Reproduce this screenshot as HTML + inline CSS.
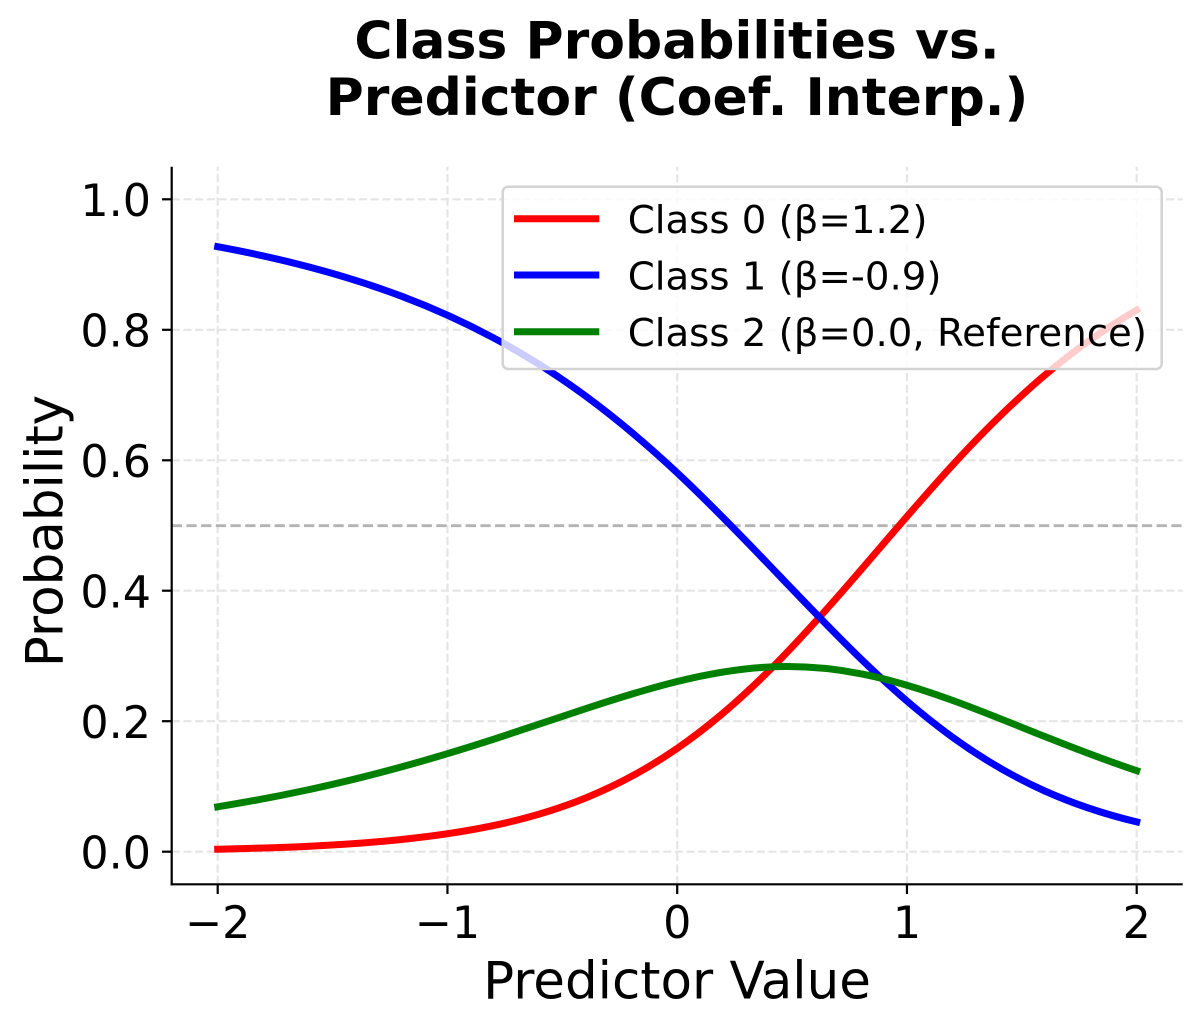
<!DOCTYPE html>
<html>
<head>
<meta charset="utf-8">
<style>
html,body{margin:0;padding:0;background:#fff;}
svg{display:block;}
text{font-family:"DejaVu Sans","Liberation Sans",sans-serif;fill:#000;}
</style>
</head>
<body>
<svg width="1200" height="1027" viewBox="0 0 1200 1027" xmlns="http://www.w3.org/2000/svg">
<rect x="0" y="0" width="1200" height="1027" fill="#fff"/>

<!-- Title -->
<text x="677" y="58.3" font-size="52" font-weight="bold" text-anchor="middle">Class Probabilities vs.</text>
<text x="677" y="115" font-size="52" font-weight="bold" text-anchor="middle">Predictor (Coef. Interp.)</text>

<!-- Grid -->
<g stroke="#e5e5e5" stroke-width="2.2" stroke-dasharray="8.2 3.5" fill="none">
  <line x1="217.7" y1="884.3" x2="217.7" y2="166.7"/>
  <line x1="447.45" y1="884.3" x2="447.45" y2="166.7"/>
  <line x1="677.2" y1="884.3" x2="677.2" y2="166.7"/>
  <line x1="906.95" y1="884.3" x2="906.95" y2="166.7"/>
  <line x1="1136.7" y1="884.3" x2="1136.7" y2="166.7"/>
  <line x1="171.7" y1="199.3" x2="1182.7" y2="199.3"/>
  <line x1="171.7" y1="329.8" x2="1182.7" y2="329.8"/>
  <line x1="171.7" y1="460.3" x2="1182.7" y2="460.3"/>
  <line x1="171.7" y1="590.7" x2="1182.7" y2="590.7"/>
  <line x1="171.7" y1="721.2" x2="1182.7" y2="721.2"/>
  <line x1="171.7" y1="851.7" x2="1182.7" y2="851.7"/>
</g>

<!-- 0.5 reference line -->
<line x1="171.7" y1="525.7" x2="1182.7" y2="525.7" stroke="#b3b3b3" stroke-width="2.8" stroke-dasharray="10.3 4.4"/>

<!-- Curves -->
<g fill="none" stroke-width="7" stroke-linecap="square" stroke-linejoin="round">
<path stroke="#ff0000" d="M217.7,849.2
C248.33,848.53 278.97,847.67 309.6,846.2
C340.23,844.73 370.87,842.66 401.5,839.5
C432.13,836.34 462.77,832.08 493.4,825.6
C524.03,819.12 554.67,810.47 585.3,798.1
C615.93,785.73 646.57,769.5 677.2,748.4
C707.83,727.3 738.47,701.17 769.1,670.7
C799.73,640.23 830.37,605.5 861.0,569.9
C891.63,534.3 922.27,498.02 952.9,464.7
C983.53,431.38 1014.17,401.08 1044.8,375.2
C1075.43,349.32 1106.07,327.79 1136.7,310.1"/>
<path stroke="#0000ff" d="M217.7,246.7
C248.33,252.34 278.97,259.02 309.6,267.1
C340.23,275.18 370.87,284.64 401.5,296.2
C432.13,307.76 462.77,321.42 493.4,337.8
C524.03,354.18 554.67,373.32 585.3,395.8
C615.93,418.28 646.57,444.14 677.2,472.8
C707.83,501.46 738.47,532.99 769.1,565.0
C799.73,597.01 830.37,629.39 861.0,659.0
C891.63,688.61 922.27,715.35 952.9,737.5
C983.53,759.65 1014.17,777.29 1044.8,791.0
C1075.43,804.71 1106.07,814.53 1136.7,821.9"/>
<path stroke="#008000" d="M217.7,806.8
C248.33,801.83 278.97,796.11 309.6,789.5
C340.23,782.89 370.87,775.31 401.5,766.9
C432.13,758.49 462.77,749.21 493.4,739.3
C524.03,729.4 554.67,718.9 585.3,708.8
C615.93,698.7 646.57,689.05 677.2,681.5
C707.83,673.95 738.47,668.54 769.1,667.0
C799.73,665.46 830.37,667.81 861.0,673.8
C891.63,679.79 922.27,689.33 952.9,700.5
C983.53,711.67 1014.17,724.33 1044.8,736.5
C1075.43,748.67 1106.07,760.39 1136.7,770.7"/>
</g>

<!-- Spines -->
<g stroke="#000" stroke-width="2.2" fill="none">
  <line x1="171.7" y1="166.7" x2="171.7" y2="885.4"/>
  <line x1="170.6" y1="884.3" x2="1182.7" y2="884.3"/>
  <!-- y ticks -->
  <line x1="162" y1="199.3" x2="171.7" y2="199.3"/>
  <line x1="162" y1="329.8" x2="171.7" y2="329.8"/>
  <line x1="162" y1="460.3" x2="171.7" y2="460.3"/>
  <line x1="162" y1="590.7" x2="171.7" y2="590.7"/>
  <line x1="162" y1="721.2" x2="171.7" y2="721.2"/>
  <line x1="162" y1="851.7" x2="171.7" y2="851.7"/>
  <!-- x ticks -->
  <line x1="217.7" y1="884.3" x2="217.7" y2="894"/>
  <line x1="447.45" y1="884.3" x2="447.45" y2="894"/>
  <line x1="677.2" y1="884.3" x2="677.2" y2="894"/>
  <line x1="906.95" y1="884.3" x2="906.95" y2="894"/>
  <line x1="1136.7" y1="884.3" x2="1136.7" y2="894"/>
</g>

<!-- Y tick labels -->
<g font-size="44.4" text-anchor="end">
  <text x="151" y="216.1">1.0</text>
  <text x="151" y="346.6">0.8</text>
  <text x="151" y="477.1">0.6</text>
  <text x="151" y="607.5">0.4</text>
  <text x="151" y="738.0">0.2</text>
  <text x="151" y="868.5">0.0</text>
</g>

<!-- X tick labels -->
<g font-size="44.4" text-anchor="middle">
  <text x="217.7" y="938">−2</text>
  <text x="447.45" y="938">−1</text>
  <text x="677.2" y="938">0</text>
  <text x="906.95" y="938">1</text>
  <text x="1136.7" y="938">2</text>
</g>

<!-- Axis labels -->
<text x="677" y="998.3" font-size="51.5" text-anchor="middle">Predictor Value</text>
<text x="0" y="0" font-size="51.5" text-anchor="middle" transform="translate(62.7,531) rotate(-90)">Probability</text>

<!-- Legend -->
<rect x="502.7" y="186.7" width="659" height="182.3" rx="5.5" ry="5.5" fill="#ffffff" fill-opacity="0.8" stroke="#d3d3d3" stroke-width="2.5"/>
<g stroke-width="7" fill="none">
  <line x1="514" y1="218.7" x2="599.3" y2="218.7" stroke="#ff0000"/>
  <line x1="514" y1="275" x2="599.3" y2="275" stroke="#0000ff"/>
  <line x1="514" y1="331.7" x2="599.3" y2="331.7" stroke="#008000"/>
</g>
<g font-size="38.7">
  <text x="627.7" y="232.8">Class 0 (β=1.2)</text>
  <text x="627.7" y="289.3">Class 1 (β=-0.9)</text>
  <text x="627.7" y="345.8">Class 2 (β=0.0, Reference)</text>
</g>
</svg>
</body>
</html>
